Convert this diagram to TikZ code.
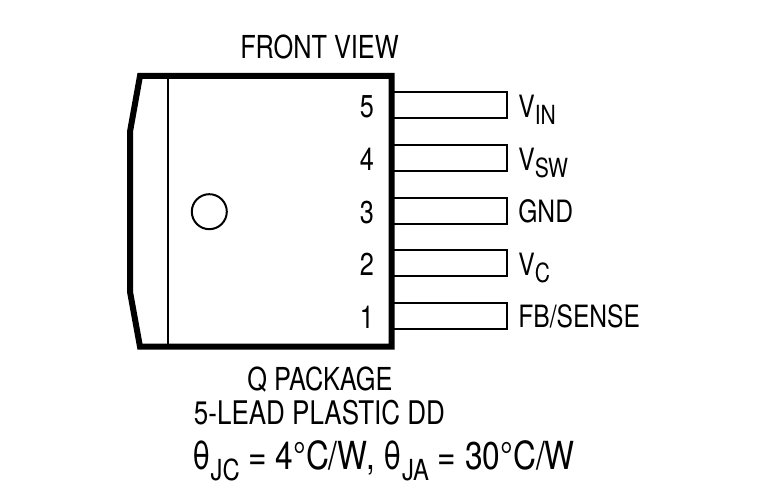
\documentclass[tikz,border=0pt]{standalone}
\usepackage{fontspec}
\setmainfont[FakeStretch=0.8]{TeX Gyre Heros}
\newfontfamily\widefont[FakeStretch=0.82]{TeX Gyre Heros}
\newcommand{\lowtext}[1]{\raisebox{-0.14cm}{\fontsize{15}{15}\selectfont #1}}
\newcommand{\lowwide}[1]{\raisebox{-0.22cm}{\fontsize{16.5}{16}\selectfont #1}}
\tikzset{
    pinbox/.style={rectangle, draw, line width=0.04cm, fill=white, inner sep=0, minimum width=2.31cm, minimum height=0.52cm},
    pinnum/.style={anchor=base, inner sep=0, font=\fontsize{18}{20}\selectfont},
    pinlabel/.style={anchor=base west, inner sep=0, font=\fontsize{17.5}{20}\selectfont},
    titletext/.style={anchor=base, inner sep=0, font=\fontsize{18}{20}\selectfont},
}
\begin{document}
\begin{tikzpicture}
    \useasboundingbox (0,0) rectangle (15.38,10);

    \begin{scope}[
            every node/.style={pinbox},
        ]

        \node (pin5) at (8.99,7.894) {};
        \node (pin4) at (8.99,6.836) {};
        \node (pin3) at (8.99,5.786) {};
        \node (pin2) at (8.99,4.73) {};
        \node (pin1) at (8.99,3.676) {};
    \end{scope}

    \draw[line width=0.12cm, fill=white] (2.8,8.48) -- (7.834,8.48) -- (7.834,3.066) -- (2.8,3.066) -- (2.6,4.166) -- (2.6,7.366) -- cycle;
    \draw[line width=0.04cm] (3.366,8.48) -- (3.366,3.066);
    \node[circle, draw, line width=0.04cm, inner sep=0, minimum size=0.7cm] (hole) at (4.186,5.766) {};

    \begin{scope}[
            every node/.style={pinnum},
        ]

        \node (num5) at (7.34,7.646) {5};
        \node (num4) at (7.34,6.58) {4};
        \node (num3) at (7.34,5.526) {3};
        \node (num2) at (7.34,4.48) {2};
        \node (num1) at (7.34,3.42) {1};
    \end{scope}

    \begin{scope}[
            every node/.style={pinlabel},
        ]

        \node (vin) at (10.36,7.646) {V\lowtext{IN}};
        \node (vsw) at (10.36,6.594) {V\lowtext{SW}};
        \node (gnd) at (10.36,5.546) {GND};
        \node (vc) at (10.36,4.48) {V\lowtext{C}};
        \node (fb) at (10.36,3.446) {FB/SENSE};
    \end{scope}

    \begin{scope}[
            every node/.style={titletext},
        ]

        \node (front) at (6.39,8.82) {FRONT VIEW};
        \node (package) at (6.4,2.18) {Q PACKAGE};
        \node[font=\fontsize{18.5}{20}\selectfont] (plastic) at (6.39,1.514) {5-LEAD PLASTIC DD};
        \node[font=\widefont\fontsize{22}{24}\selectfont] (theta) at (7.67,0.6) {θ\lowwide{JC} = 4°C/W, θ\lowwide{JA} = 30°C/W};
    \end{scope}
\end{tikzpicture}
\end{document}
